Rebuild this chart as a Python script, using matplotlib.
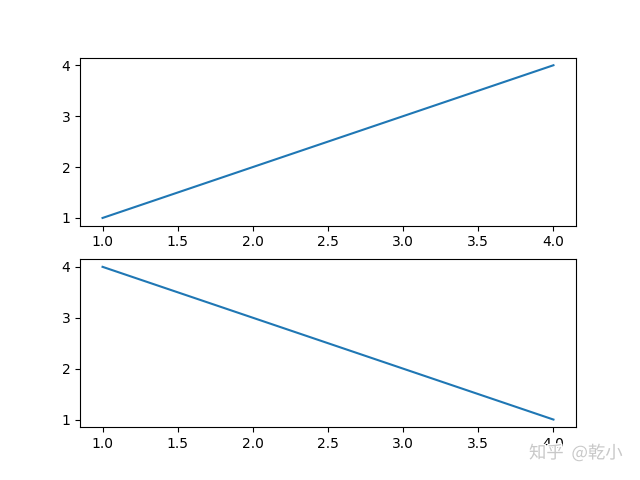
import matplotlib
matplotlib.use("Agg")
import matplotlib.pyplot as plt
import matplotlib.patheffects as pe

x = [1, 2, 3, 4]
y_up = [1, 2, 3, 4]
y_down = [4, 3, 2, 1]
watermark = "知乎  @乾小"

fig = plt.figure(figsize=(6.4, 4.8), dpi=100)
ax1 = fig.add_subplot(211)
ax1.plot(x, y_up)
ax2 = fig.add_subplot(212)
ax2.plot(x, y_down)

fig.text(0.973, 0.056, watermark, ha="right", va="center", fontsize=12.5,
         color="#c8c8c8", family=["Noto Sans CJK SC", "DejaVu Sans"],
         path_effects=[pe.withStroke(linewidth=2, foreground="white")])

fig.savefig("out.png", dpi=100)
